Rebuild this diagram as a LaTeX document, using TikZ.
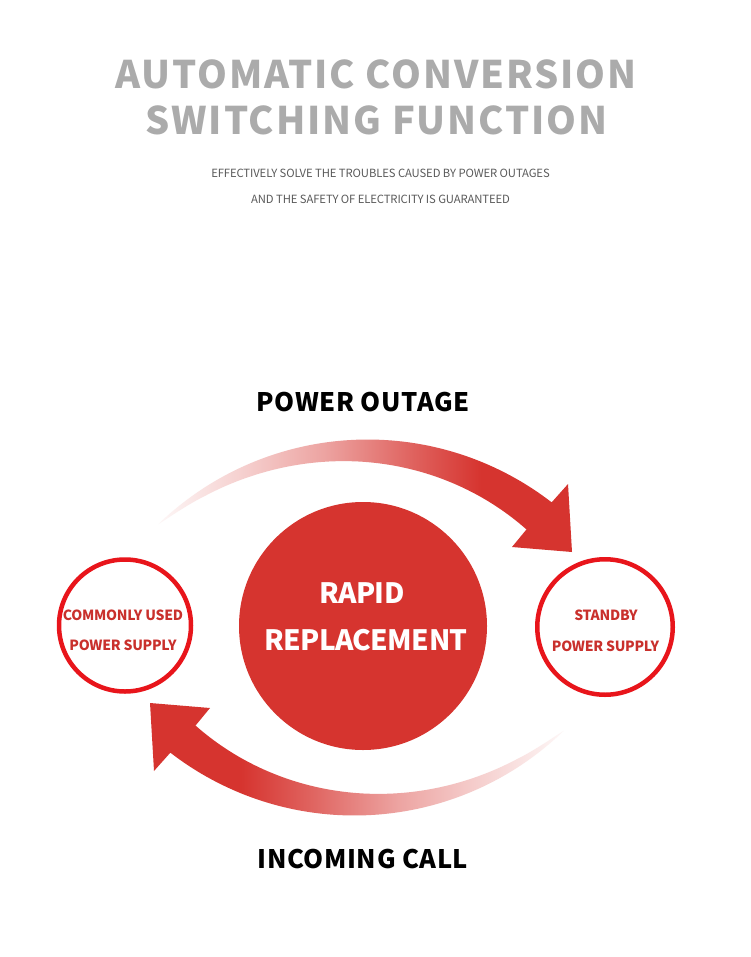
\documentclass[tikz,border=0pt]{standalone}
\usepackage{fontspec}
\setmainfont{Noto Sans CJK SC}
\newfontfamily\titlefont{Noto Sans CJK SC}[LetterSpace=5]
\newfontfamily\subfont{Noto Sans CJK SC}[LetterSpace=-1]
\newfontfamily\headfont{Noto Sans CJK SC}[LetterSpace=2.3]
\newfontfamily\corefont{Noto Sans CJK SC}[LetterSpace=-2]
\newfontfamily\ringfont{Noto Sans CJK SC}[LetterSpace=-2]
\definecolor{titlegray}{HTML}{ABABAB}
\definecolor{subgray}{HTML}{5A5A5A}
\definecolor{corered}{HTML}{D6342F}
\definecolor{ringred}{HTML}{E8151B}
\definecolor{labelred}{HTML}{C9302C}
\pgfdeclarehorizontalshading{fadearrow}{100bp}{color(0bp)=(corered!4); color(25bp)=(corered!4); color(36bp)=(corered!25); color(45bp)=(corered!45); color(56bp)=(corered!78); color(64bp)=(corered); color(100bp)=(corered)}
\begin{document}
\begin{tikzpicture}[x=1pt,y=-1pt,
  titletext/.style={anchor=base, inner sep=0pt, text=titlegray, font=\titlefont\bfseries\fontsize{38}{40}\selectfont},
  subtext/.style={anchor=base, inner sep=0pt, text=subgray, font=\subfont\fontsize{11.3}{13}\selectfont},
  headtext/.style={anchor=base, inner sep=0pt, text=black, font=\headfont\bfseries\fontsize{25.5}{28}\selectfont},
  coretext/.style={anchor=base, inner sep=0pt, text=white, font=\corefont\bfseries\fontsize{28}{30}\selectfont},
  ringtext/.style={anchor=base, inner sep=0pt, text=labelred, font=\ringfont\bfseries\fontsize{14}{16}\selectfont},
  ring/.style={circle, draw=ringred, line width=4.5pt, fill=white, inner sep=0pt},
  bigarrow/.style={shading=fadearrow}
]
\useasboundingbox (0,0) rectangle (750,957);
\fill[white] (0,0) rectangle (750,957);
% titles
\node[titletext] (t1) at (376,88.3) {AUTOMATIC CONVERSION};
\node[titletext] (t2) at (376.5,135) {SWITCHING FUNCTION};
\node[subtext] (s1) at (380.5,177.3) {EFFECTIVELY SOLVE THE TROUBLES CAUSED BY POWER OUTAGES};
\node[subtext] (s2) at (380.5,203.5) {AND THE SAFETY OF ELECTRICITY IS GUARANTEED};
% arrows
\def\arrowpath{plot[domain=134:52.3,samples=80] ({367.6+301*cos(\x)},{740.5-301*sin(\x)}) -- (568,484) -- (572,552) -- (512,547) -- (526,530) -- plot[domain=52.9:134,samples=80] ({367.6+(301-37*pow((134.05-\x)/81.5,0.8))*cos(\x)},{740.5-(301-37*pow((134.05-\x)/81.5,0.8))*sin(\x)}) -- cycle}
\shade[bigarrow] \arrowpath;
\shade[bigarrow, shading angle=180, rotate around={180:(361,627.5)}] \arrowpath;
% circles
\node[circle, fill=corered, minimum size=248pt, inner sep=0pt] (core) at (363,626) {};
\node[ring, minimum size=132pt] (main) at (125,625.5) {};
\node[ring, minimum size=135.5pt] (standby) at (605,627) {};
% labels
\node[headtext] (outage) at (363,411) {POWER OUTAGE};
\node[headtext] (incoming) at (363,868) {INCOMING CALL};
\node[coretext] (rapid) at (362,603) {RAPID};
\node[coretext] (replace) at (366,650) {REPLACEMENT};
\node[ringtext] (m1) at (123,620.7) {COMMONLY USED};
\node[ringtext] (m2) at (123,650.7) {POWER SUPPLY};
\node[ringtext] (b1) at (606,620.3) {STANDBY};
\node[ringtext] (b2) at (605.5,651) {POWER SUPPLY};
\end{tikzpicture}
\end{document}
